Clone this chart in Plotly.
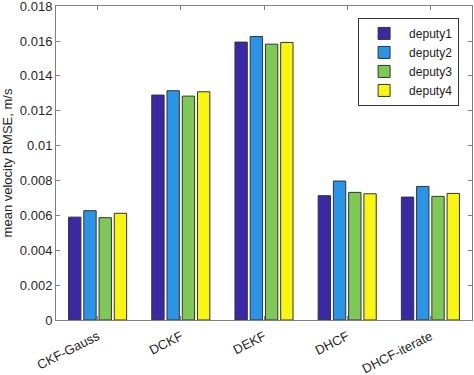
import plotly.graph_objects as go

categories = ["CKF-Gauss", "DCKF", "DEKF", "DHCF", "DHCF-iterate"]
deputy1 = [0.00590, 0.01290, 0.01594, 0.00713, 0.00705]
deputy2 = [0.00627, 0.01315, 0.01626, 0.00797, 0.00766]
deputy3 = [0.00587, 0.01284, 0.01582, 0.00732, 0.00709]
deputy4 = [0.00612, 0.01309, 0.01592, 0.00724, 0.00726]
series_names = ["deputy1", "deputy2", "deputy3", "deputy4"]
series_values = [deputy1, deputy2, deputy3, deputy4]
colors = ["#3b28a4", "#2a95e6", "#7ec856", "#f8f611"]
ytick_vals = [0, 0.002, 0.004, 0.006, 0.008, 0.01, 0.012, 0.014, 0.016, 0.018]
ytick_text = ["0", "0.002", "0.004", "0.006", "0.008", "0.01", "0.012", "0.014", "0.016", "0.018"]

xpos = list(range(1, len(categories) + 1))

fig = go.Figure()
for name, vals, c in zip(series_names, series_values, colors):
    fig.add_trace(go.Bar(x=xpos, y=vals, name=name, marker=dict(color=c, line=dict(color="#333333", width=1))))

axis_common = dict(showline=True, linecolor="#808080", linewidth=1, mirror="ticks",
                   ticks="inside", tickcolor="#808080", ticklen=4, showgrid=False, zeroline=False,
                   automargin=False, ticklabeloverflow="allow",
                   tickfont=dict(family="Liberation Sans, Arial, sans-serif", size=13, color="#262626"))

fig.update_layout(
    width=474, height=375,
    margin=dict(l=56, r=2, t=6, b=55),
    barmode="group", bargap=0.267, bargroupgap=0.19,
    plot_bgcolor="white", paper_bgcolor="white",
    font=dict(family="Liberation Sans, Arial, sans-serif", size=13, color="#262626"),
    xaxis=dict(range=[0.5, 5.5], tickvals=xpos, ticktext=categories, tickangle=-27,
               ticklabelstandoff=3, **axis_common),
    yaxis=dict(range=[0, 0.01801], tickvals=ytick_vals, ticktext=ytick_text,
               title=dict(text="mean velocity RMSE, m/s", standoff=4, font=dict(size=13)), **axis_common),
    legend=dict(x=0.969, y=0.962, xanchor="right", yanchor="top", bgcolor="white",
                bordercolor="#333333", borderwidth=1, tracegroupgap=0,
                font=dict(size=12, color="#1a1a1a"), itemwidth=40),
    showlegend=True,
)

fig.write_html("out.html", config={"displayModeBar": False},
               post_script="document.body.style.margin='0px';")
